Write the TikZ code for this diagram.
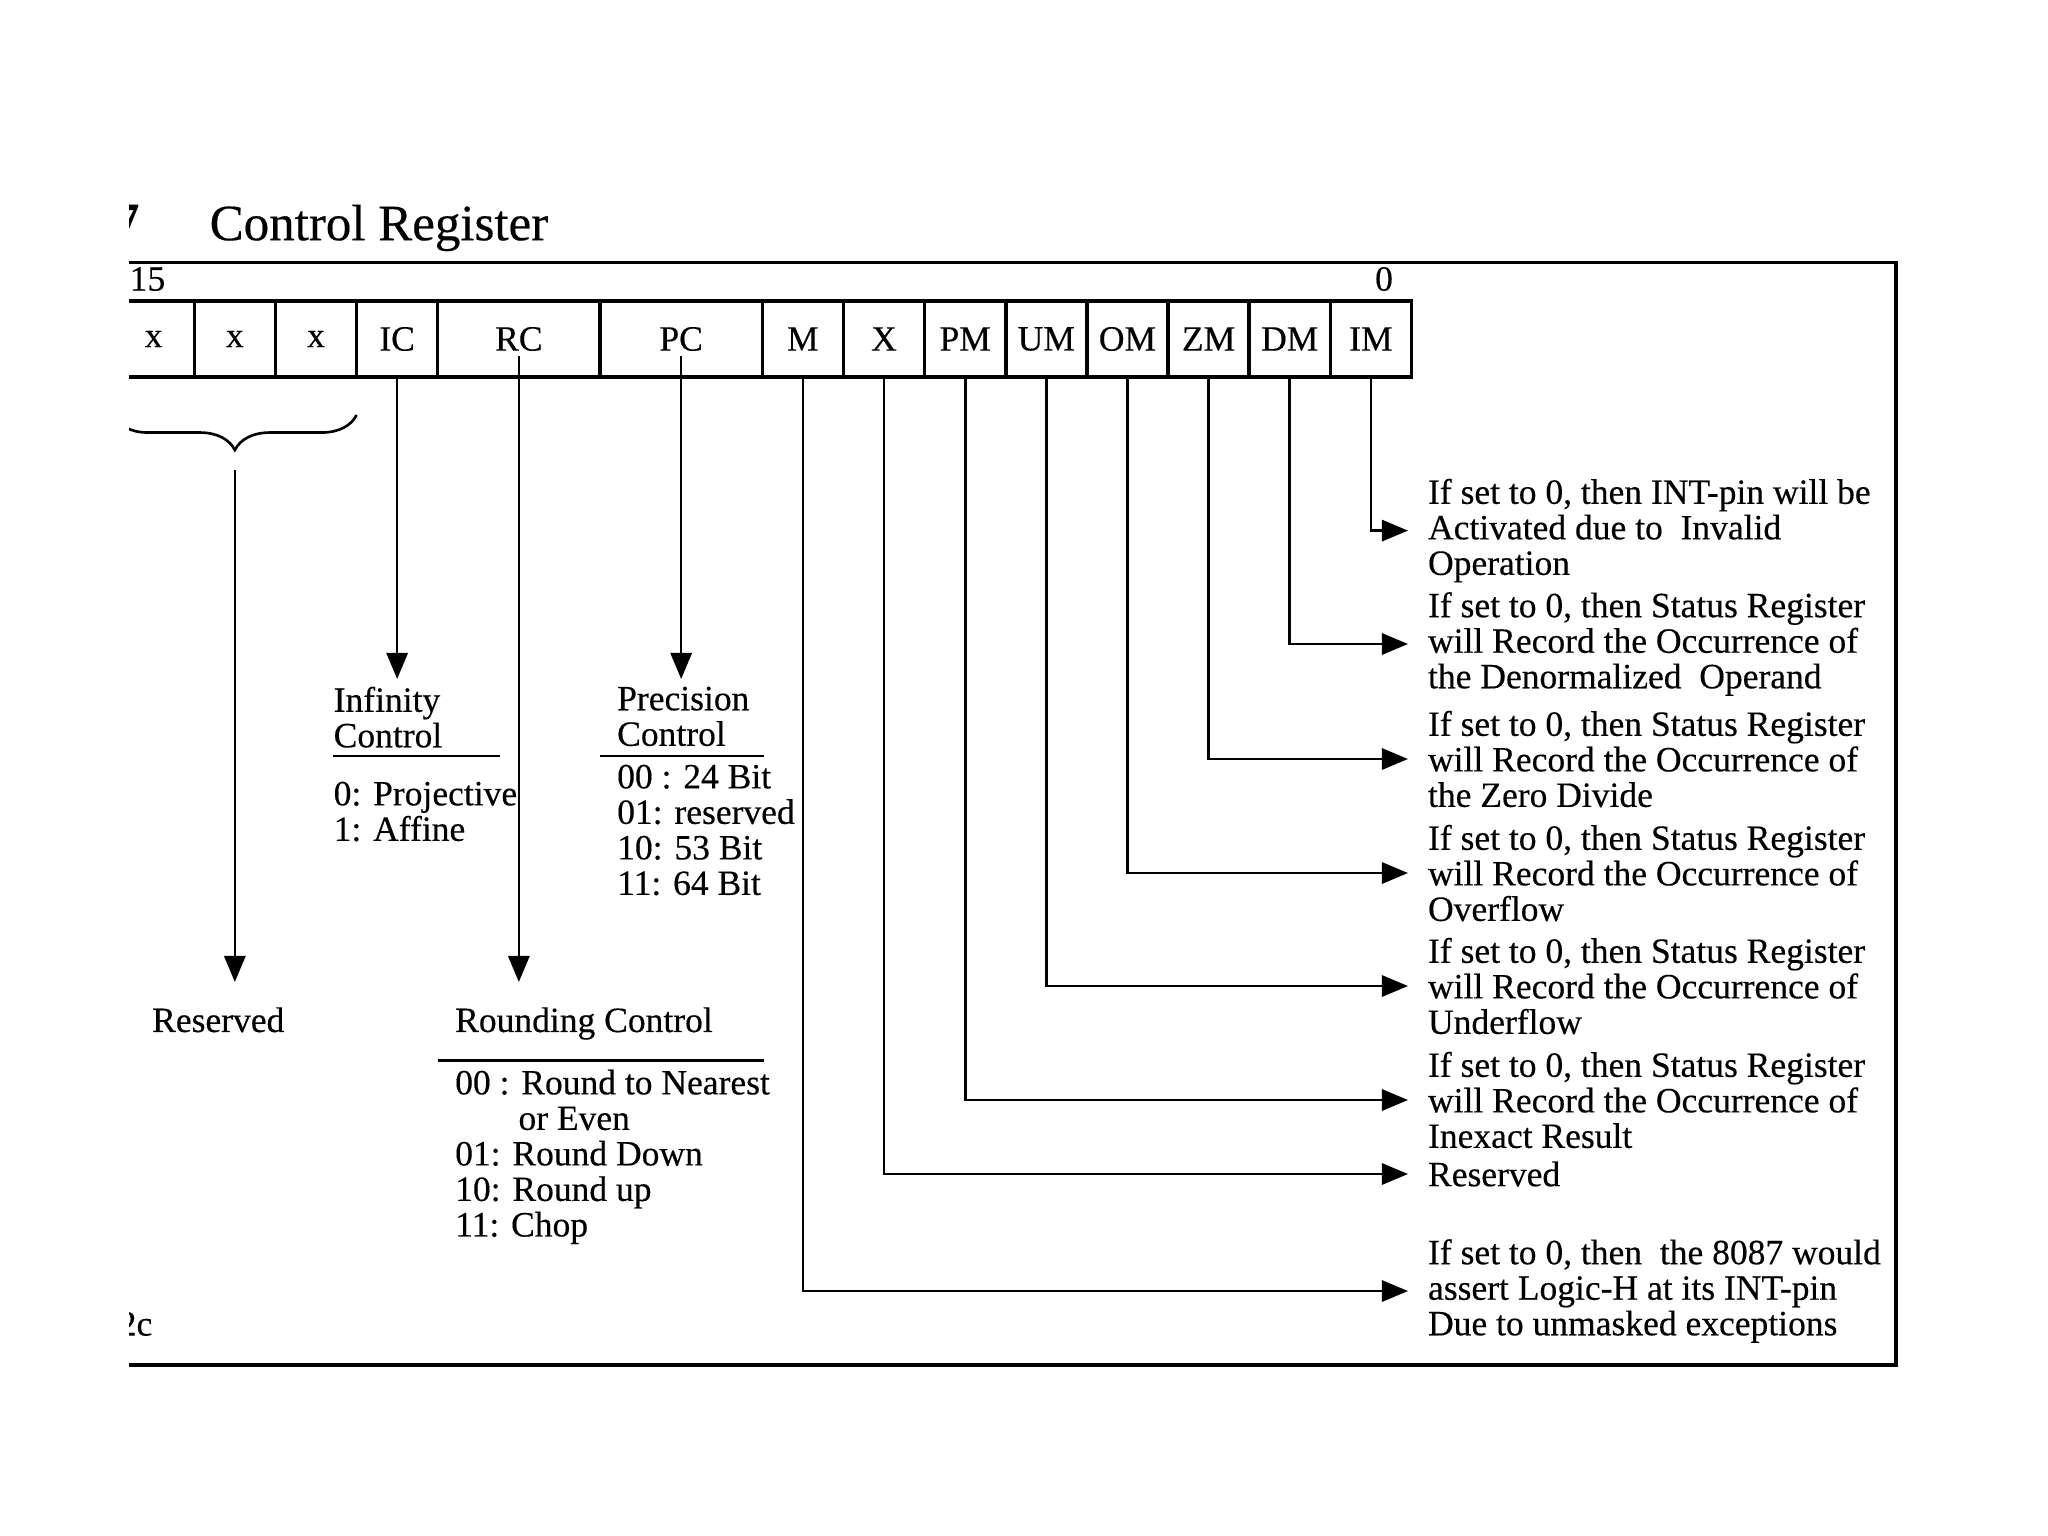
\documentclass[tikz,border=0pt]{standalone}
\usepackage{fontspec}
\setmainfont{Liberation Serif}[UprightFeatures={FakeBold=0.35}]
\usepackage{tikz}
\usetikzlibrary{arrows.meta,positioning,calc,decorations.pathreplacing}
\newcommand{\regfont}{\fontsize{10.1}{10.1}\selectfont}
\newcommand{\headfont}{\fontsize{14.5}{16}\selectfont}

\begin{document}
\begin{tikzpicture}[x=0.01cm, y=-0.01cm,
  cell/.style={draw, line width=1pt, minimum width=0.811cm, minimum height=0.76cm,
    inner sep=0pt, outer sep=0pt, font=\regfont},
  wcell/.style={cell, minimum width=1.622cm},
  txt/.style={inner sep=0pt, align=left, anchor=north west, font=\regfont},
  note/.style={inner xsep=5.5pt, inner ysep=0pt, align=left, anchor=west, font=\regfont},
  arr/.style={line width=0.75pt, -{Triangle[length=7.4pt,width=6pt]}},
  rule/.style={line width=0.75pt}]
  \useasboundingbox (0,0) rectangle (2048,1536);
  \clip (129,0) rectangle (2048,1536);

  % Title
  \node[anchor=east, inner sep=0pt, font=\headfont\bfseries] (fignum) at (141,222) {7};
  \node[anchor=west, inner sep=0pt, font=\headfont] (title) at (209,228) {Control Register};

  % Frame
  \draw[line width=0.9pt] (100,262.5) -| (1896,1365) -- (100,1365);
  \node[anchor=east, inner sep=0pt, font=\regfont] (figtag) at (153,1324) {2c};

  % Bit numbers
  \node[font=\regfont, inner sep=0pt] (hi) at (147.5,279) {15};
  \node[font=\regfont, inner sep=0pt] (lo) at (1384,279) {0};

  % Register cells
  \node[cell] (b15) at (153.7,339) {x};
  \node[cell, right=0pt of b15] (b14) {x};
  \node[cell, right=0pt of b14] (b13) {x};
  \node[cell, right=0pt of b13] (ic) {IC};
  \node[wcell, right=0pt of ic] (rc) {RC};
  \node[wcell, right=0pt of rc] (pc) {PC};
  \node[cell, right=0pt of pc] (mb) {M};
  \node[cell, right=0pt of mb] (xb) {X};
  \node[cell, right=0pt of xb] (pm) {PM};
  \node[cell, right=0pt of pm] (um) {UM};
  \node[cell, right=0pt of um] (om) {OM};
  \node[cell, right=0pt of om] (zm) {ZM};
  \node[cell, right=0pt of zm] (dm) {DM};
  \node[cell, right=0pt of dm] (im) {IM};

  % Reserved bits
  \draw[rule, decorate, decoration={brace, amplitude=0.35cm}]
    ($(b13.south east)+(0,38)$) -- ($(b15.south west)+(0,38)$);
  \coordinate (brtip) at ($(b14.south)+(0,93)$);
  \node[txt, inner ysep=7pt] (resv) at (151.5,982) {Reserved};
  \draw[arr] (brtip) -- (brtip |- resv.north);

  % Infinity control
  \node[txt, inner ysep=2pt] (infhd) at (333,679) {Infinity\\Control};
  \draw[rule] (333,756) -- (500,756);
  \node[txt] (infval) at (333,781) {0: Projective\\1: Affine};
  \draw[arr] (ic.south) -- (ic.south |- infhd.north);

  % Rounding control
  \node[txt, inner ysep=7pt] (rndhd) at (454.5,982) {Rounding Control};
  \draw[rule] (437.5,1060.5) -- (764,1060.5);
  \node[txt] (rndval) at (454.5,1069) {00 : Round to Nearest\\\hspace*{18pt}or Even\\01: Round Down\\10: Round up\\11: Chop};
  \draw[arr] ([yshift=6pt]rc.south) -- (rc.south |- rndhd.north);

  % Precision control
  \node[txt, inner ysep=2pt] (prchd) at (616.5,679) {Precision\\Control};
  \draw[rule] (599.5,756) -- (764,756);
  \node[txt] (prcval) at (616.5,764) {00 : 24 Bit\\01: reserved\\10: 53 Bit\\11: 64 Bit};
  \draw[arr] ([yshift=6pt]pc.south) -- (pc.south |- prchd.north);

  % Mask bits
  \node[note] (imtxt) at (1408,530.6) {If set to 0, then INT-pin will be\\Activated due to\ \ Invalid\\Operation};
  \node[note] (dmtxt) at (1408,644) {If set to 0, then Status Register\\will Record the Occurrence of\\the Denormalized\ \ Operand};
  \node[note] (zmtxt) at (1408,759) {If set to 0, then Status Register\\will Record the Occurrence of\\the Zero Divide};
  \node[note] (omtxt) at (1408,873) {If set to 0, then Status Register\\will Record the Occurrence of\\Overflow};
  \node[note] (umtxt) at (1408,986) {If set to 0, then Status Register\\will Record the Occurrence of\\Underflow};
  \node[note] (pmtxt) at (1408,1100) {If set to 0, then Status Register\\will Record the Occurrence of\\Inexact Result};
  \node[note] (xtxt) at (1408,1174) {Reserved};
  \node[note] (mtxt) at (1408,1291) {If set to 0, then\ \ the 8087 would\\assert Logic-H at its INT-pin\\Due to unmasked exceptions};

  \draw[arr] (im.south) |- (imtxt.west);
  \draw[arr] (dm.south) |- (dmtxt.west);
  \draw[arr] (zm.south) |- (zmtxt.west);
  \draw[arr] (om.south) |- (omtxt.west);
  \draw[arr] (um.south) |- (umtxt.west);
  \draw[arr] (pm.south) |- (pmtxt.west);
  \draw[arr] (xb.south) |- (xtxt.west);
  \draw[arr] (mb.south) |- (mtxt.west);
\end{tikzpicture}
\end{document}
